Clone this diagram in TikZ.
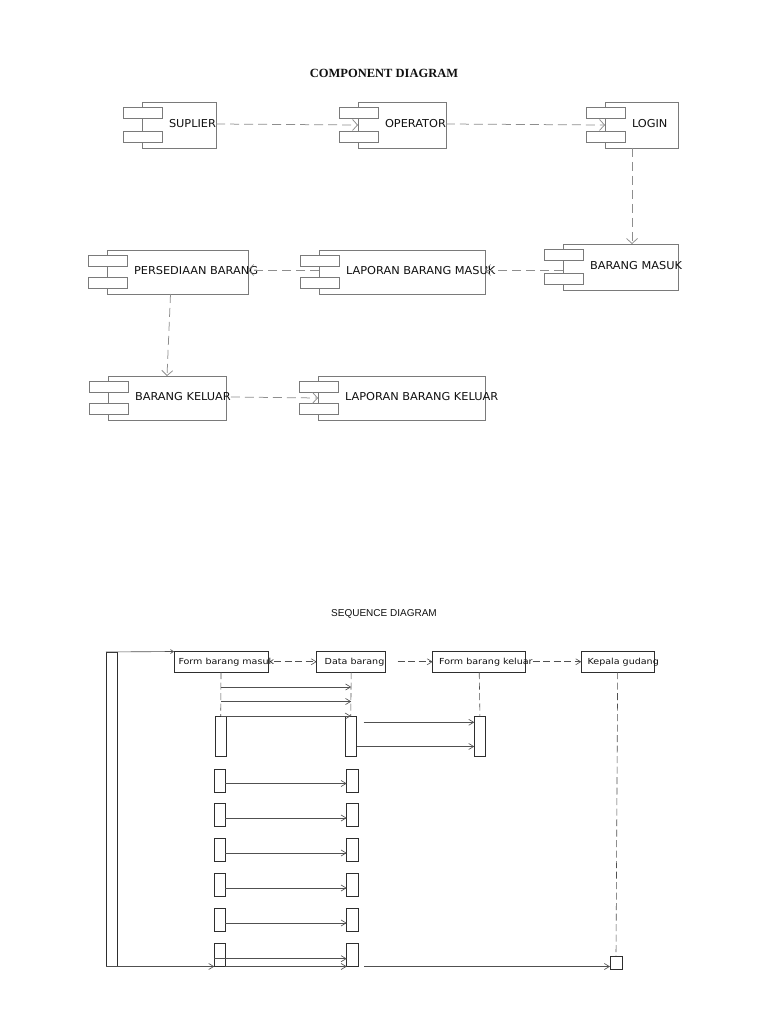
\documentclass[tikz,border=0pt]{standalone}
\usepackage{fontspec}
\setmainfont{DejaVu Sans}
\newfontfamily\titleserif{Liberation Serif}
\newfontfamily\titlesans{Liberation Sans}
\usetikzlibrary{arrows.meta}
\definecolor{boxgray}{HTML}{7A7A7A}
\definecolor{dashgray}{HTML}{8E8E8E}
\definecolor{seqdark}{HTML}{2E2E2E}
\definecolor{seqline}{HTML}{505050}
\definecolor{txt}{HTML}{111111}
\newcommand\compwide[1]{\scalebox{1.04}[1]{#1}}
\newcommand\seqwide[1]{\scalebox{1.15}[1]{#1}}
\tikzset{
 compbox/.style={draw=boxgray, line width=0.75pt, inner sep=0pt, outer sep=0pt},
 tabbox/.style={draw=boxgray, line width=0.75pt, fill=white},
 complabel/.style={inner sep=0pt, outer sep=0pt, text=txt, font=\fontsize{10.9}{12}\selectfont},
 cdash/.style={draw=dashgray, line width=0.75pt, dash pattern=on 9pt off 5pt, -{Straight Barb[length=5pt,width=11pt]}},
 objbox/.style={draw=seqdark, line width=0.7pt, inner sep=0pt, outer sep=0pt, fill=white},
 actbox/.style={draw=seqdark, line width=0.8pt, inner sep=0pt, outer sep=0pt, fill=white},
 objlabel/.style={inner sep=0pt, outer sep=0pt, text=txt, font=\fontsize{8.3}{9}\selectfont},
 msg/.style={draw=seqline, line width=0.65pt, -{Straight Barb[length=5pt,width=6pt]}},
 sdash/.style={draw=seqline, line width=0.6pt, dash pattern=on 7pt off 3.5pt},
 sdasharrow/.style={sdash, -{Straight Barb[length=5pt,width=6pt]}},
}
% name, x, y, w, h, label
\newcommand{\mycomp}[6]{%
  \node[compbox, minimum width=#4pt, minimum height=#5pt, anchor=north west] (#1) at (#2,#3) {};
  \draw[tabbox] ([xshift=-19pt,yshift=-5pt]#1.north west) rectangle ++(39pt,-11pt);
  \draw[tabbox] ([xshift=-19pt,yshift=6pt]#1.south west) rectangle ++(39pt,11pt);
  \node[complabel, anchor=west] (#1-l) at ([xshift=27pt,yshift=1pt]#1.west) {\compwide{#6}};
}
% name, x, y, w, h
\newcommand{\myact}[5]{%
  \node[actbox, minimum width=#4pt, minimum height=#5pt, anchor=north west] (#1) at (#2,#3) {};
}
\begin{document}
\begin{tikzpicture}[x=1pt, y=-1pt]
\useasboundingbox (0,0) rectangle (768,1024);
\fill[white] (0,0) rectangle (768,1024);

% ---------------- COMPONENT DIAGRAM ----------------
\node[font=\titleserif\bfseries\fontsize{12.5}{14}\selectfont, text=txt] (t1) at (384,73) {COMPONENT DIAGRAM};

\mycomp{SUP}{142}{102}{74}{46}{SUPLIER}
\mycomp{OPR}{358}{102}{88}{46}{OPERATOR}
\mycomp{LOG}{605}{102}{73}{46}{LOGIN}
\mycomp{PB}{107}{250}{141}{44}{PERSEDIAAN BARANG}
\mycomp{LBM}{319}{250}{166}{44}{LAPORAN BARANG MASUK}
\mycomp{BM}{563}{244}{115}{46}{BARANG MASUK}
\mycomp{BK}{108}{376}{118}{44}{BARANG KELUAR}
\mycomp{LBK}{318}{376}{167}{44}{LAPORAN BARANG KELUAR}

\coordinate (vx) at (632,0);
\draw[cdash] (SUP-l.east) -- (OPR.west);
\draw[cdash] (OPR-l.east) -- (LOG.west);
\draw[cdash] (LOG.south -| vx) -- (BM.north -| vx);
\draw[cdash] ([yshift=-3pt]BM.west) -- ([yshift=2pt]LBM.east);
\draw[cdash] ([yshift=2pt]LBM.west) -- ([yshift=2pt]PB.east);
\draw[cdash] ([xshift=-7pt]PB.south) -- (BK.north);
\draw[cdash] (BK-l.east) -- (LBK.west);

% ---------------- SEQUENCE DIAGRAM ----------------
\node[font=\titlesans\fontsize{10}{12}\selectfont, text=txt] (t2) at (384,614) {SEQUENCE DIAGRAM};

% objects
\node[objbox, minimum width=94pt, minimum height=20.5pt, anchor=north west] (FBM) at (174,651.5) {};
\node[objbox, minimum width=69pt, minimum height=20.5pt, anchor=north west] (DB) at (316.7,651.5) {};
\node[objbox, minimum width=93pt, minimum height=20.5pt, anchor=north west] (FBK) at (432.7,651.5) {};
\node[objbox, minimum width=72.7pt, minimum height=20.5pt, anchor=north west] (KG) at (581.3,651.5) {};
\node[objlabel, anchor=west] (FBM-l) at ([xshift=4.5pt]FBM.west) {\seqwide{Form barang masuk}};
\node[objlabel, anchor=west] (DB-l) at ([xshift=8pt]DB.west) {\seqwide{Data barang}};
\node[objlabel, anchor=west] (FBK-l) at ([xshift=6.5pt]FBK.west) {\seqwide{Form barang keluar}};
\node[objlabel, anchor=west] (KG-l) at ([xshift=6.3pt]KG.west) {\seqwide{Kepala gudang}};

\draw[sdasharrow] (FBM-l.east) -- (DB.west);
\draw[sdasharrow] ([xshift=12pt]DB.east) -- (FBK.west);
\draw[sdasharrow] (FBK-l.east) -- (KG.west);

% left bar
\node[objbox, minimum width=11.3pt, minimum height=314.5pt, anchor=north west] (bar) at (106,652) {};

% activations
\myact{A1}{215}{716}{11.5}{40}
\myact{A2}{345}{716}{11.5}{40.5}
\myact{A3}{474.3}{716.5}{11.3}{40.3}
\myact{L1}{214.3}{769}{11}{23}
\myact{R1}{346.7}{769}{11.5}{23}
\myact{L2}{214.3}{803.5}{11}{23}
\myact{R2}{346.7}{803.5}{11.5}{23}
\myact{L3}{214.3}{838.5}{11}{23}
\myact{R3}{346.7}{838.5}{11.5}{23}
\myact{L4}{214.3}{873.5}{11}{23}
\myact{R4}{346.7}{873.5}{11.5}{23}
\myact{L5}{214.3}{908.5}{11}{23}
\myact{R5}{346.7}{908.5}{11.5}{23}
\myact{L6}{214.3}{943.5}{11}{23}
\myact{R6}{346.7}{943.5}{11.5}{23}
\myact{KA}{610}{956}{12}{13}

% lifelines
\draw[sdash] (FBM.south) -- (A1.north);
\draw[sdash] (DB.south) -- (A2.north);
\draw[sdash] (FBK.south) -- (A3.north);
\draw[sdash] (KG.south) -- (KA.north);

% messages
\draw[msg, -{Straight Barb[length=3pt,width=4pt]}] (bar.north west) -- (FBM.north west);
\draw[msg] ([yshift=-15pt]FBM.south) -- ([yshift=-15pt]DB.south);
\draw[msg] ([yshift=-29.5pt]FBM.south) -- ([yshift=-29.5pt]DB.south);
\draw[msg] (A1.north) -- (A2.north);
\draw[msg] ([xshift=7pt,yshift=-6.3pt]A2.north east) -- ([yshift=-5.8pt]A3.north west);
\draw[msg] ([yshift=-30.5pt]A2.north east) -- ([yshift=-30pt]A3.north west);
\foreach \i in {1,...,5}{
  \draw[msg] ([yshift=-3pt]L\i.east) -- ([yshift=-3pt]R\i.west);
}
\draw[msg] ([yshift=-15.2pt]L6.north west) -- ([yshift=-15.2pt]R6.north west);
\draw[msg] (bar.south west) -- (L6.south west);
\draw[msg] (L6.south east) -- (R6.south west);
\draw[msg] ([xshift=6pt]R6.south east) -- ([yshift=-4pt]KA.west);
\end{tikzpicture}
\end{document}
